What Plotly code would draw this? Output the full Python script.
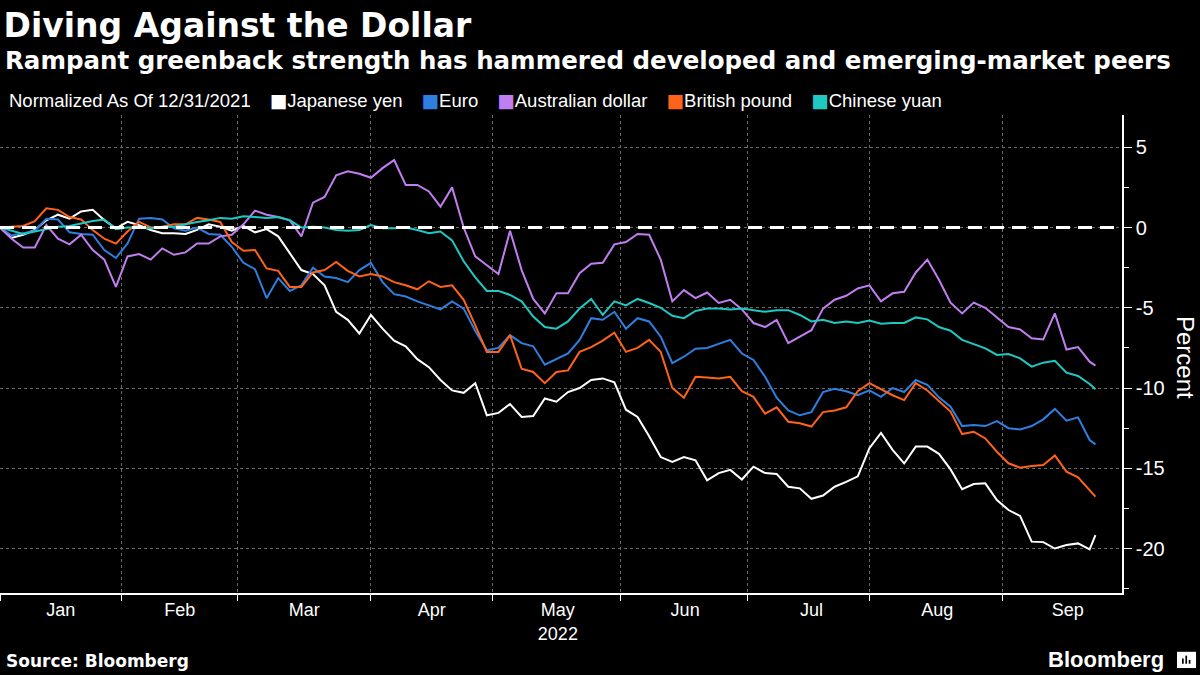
import pandas as pd
import plotly.graph_objects as go

# trading days (weekdays) from Jan 3 to Sep 23 2022, read every 2nd day plus the last one
trading_days = pd.bdate_range("2022-01-03", "2022-09-23")
sample = list(range(0, len(trading_days), 2)) + [len(trading_days) - 1]
dates = trading_days[sample]

# percent change vs the dollar, normalized as of 12/31/2021
japanese_yen = [
    0, -0.65, -0.45, -0.15, 0.45, 0.8, 0.55, 1.0, 1.1, 0.45,
    -0.05, 0.35, 0.15, -0.15, -0.35, -0.35, -0.4, -0.15, 0.2, 0.05,
    -0.2, 0.1, -0.3, -0.1, -0.55, -1.6, -2.65, -2.9, -3.6, -5.25,
    -5.75, -6.6, -5.45, -6.3, -7.05, -7.4, -8.2, -8.7, -9.5, -10.15,
    -10.3, -9.7, -11.7, -11.55, -11.0, -11.8, -11.75, -10.65, -10.85, -10.25,
    -10.0, -9.5, -9.4, -9.65, -11.35, -11.8, -13.0, -14.3, -14.6, -14.3,
    -14.5, -15.75, -15.3, -15.1, -15.7, -14.9, -15.3, -15.35, -16.15, -16.25,
    -16.9, -16.7, -16.15, -15.85, -15.5, -13.75, -12.8, -13.85, -14.7, -13.65,
    -13.65, -14.1, -15.07, -16.3, -15.98, -15.94, -16.98, -17.6, -17.97, -19.57,
    -19.6, -20.0, -19.78, -19.68, -20.05, -19.16,
]
euro = [
    0, -0.5, -0.35, -0.2, 0.55, 0.5, -0.3, -0.4, -0.45, -1.4,
    -1.9, -1.0, 0.55, 0.6, 0.5, -0.05, -0.2, 0.0, -0.4, -0.45,
    -1.2, -2.2, -2.6, -4.4, -3.15, -3.95, -3.6, -2.5, -3.05, -3.15,
    -3.4, -2.65, -2.2, -3.4, -4.15, -4.3, -4.6, -4.85, -5.1, -4.6,
    -5.05, -6.45, -7.65, -7.5, -6.7, -7.2, -7.4, -8.55, -8.2, -7.85,
    -7.0, -5.65, -5.75, -5.25, -6.3, -5.65, -5.85, -6.8, -8.45, -8.05,
    -7.55, -7.5, -7.25, -7.0, -7.85, -8.25, -9.3, -10.6, -11.4, -11.7,
    -11.5, -10.25, -10.05, -10.2, -10.45, -10.15, -10.55, -10.0, -10.25, -9.5,
    -9.8, -10.58, -11.16, -12.37, -12.3, -12.37, -12.06, -12.5, -12.58, -12.37,
    -11.95, -11.3, -12.03, -11.83, -13.24, -13.51,
]
australian_dollar = [
    0, -0.7, -1.25, -1.25, 0.15, -0.7, -1.05, -0.45, -1.4, -2.0,
    -3.7, -1.8, -1.65, -2.0, -1.3, -1.7, -1.55, -1.0, -1.0, -0.55,
    -0.45, 0.2, 1.05, 0.8, 0.65, 0.45, -0.55, 1.55, 1.9, 3.25,
    3.5, 3.35, 3.1, 3.7, 4.2, 2.65, 2.65, 2.25, 1.3, 2.5,
    0.0, -1.8, -2.35, -2.9, -0.2, -2.65, -4.45, -5.35, -4.1, -4.1,
    -2.85, -2.25, -2.2, -1.05, -0.9, -0.4, -0.45, -2.0, -4.6, -3.9,
    -4.4, -4.05, -4.7, -4.5, -5.1, -5.95, -6.2, -5.75, -7.2, -6.8,
    -6.4, -5.05, -4.5, -4.25, -3.8, -3.6, -4.6, -4.1, -4.0, -2.8,
    -2.0, -3.25, -4.68, -5.35, -4.68, -5.0, -5.6, -6.2, -6.35, -6.9,
    -6.97, -5.35, -7.6, -7.45, -8.36, -8.6,
]
british_pound = [
    0, 0.05, 0.1, 0.4, 1.2, 1.1, 0.65, 0.5, -0.15, -0.7,
    -1.0, -0.25, 0.35, 0.0, 0.05, 0.2, 0.2, 0.6, 0.5, 0.35,
    -0.9, -1.45, -1.4, -2.55, -2.7, -3.7, -3.7, -2.8, -2.65, -2.15,
    -2.7, -3.05, -2.9, -3.05, -3.4, -3.6, -3.85, -3.35, -3.7, -3.6,
    -4.5, -6.1, -7.75, -7.75, -6.7, -8.8, -9.0, -9.7, -9.0, -8.9,
    -7.75, -7.45, -7.05, -6.55, -7.75, -7.5, -7.0, -7.75, -10.0, -10.6,
    -9.3, -9.35, -9.4, -9.3, -10.2, -10.55, -11.6, -11.2, -12.1, -12.2,
    -12.4, -11.5, -11.4, -11.2, -10.2, -9.7, -10.1, -10.45, -10.75, -9.7,
    -10.15, -10.79, -11.47, -12.87, -12.72, -13.14, -13.97, -14.69, -14.96, -14.86,
    -14.8, -14.2, -15.21, -15.57, -16.36, -16.77,
]
chinese_yuan = [
    0, -0.2, -0.4, -0.25, -0.1, 0.05, 0.1, 0.25, 0.4, 0.5,
    -0.1, 0.0, 0.0, -0.05, 0.05, 0.05, 0.2, 0.35, 0.45, 0.6,
    0.55, 0.7, 0.65, 0.6, 0.65, 0.45, 0.0, 0.05, 0.0, -0.15,
    -0.2, -0.15, 0.15, -0.05, -0.05, 0.0, -0.15, -0.35, -0.25, -0.8,
    -2.1, -3.1, -3.95, -3.95, -4.2, -4.6, -5.55, -6.2, -6.3, -5.85,
    -5.05, -4.45, -5.45, -4.6, -4.85, -4.45, -4.7, -5.0, -5.5, -5.65,
    -5.2, -5.05, -5.05, -5.1, -5.05, -5.15, -5.25, -5.15, -5.15, -5.45,
    -5.85, -5.75, -5.95, -5.85, -5.95, -5.8, -6.0, -5.95, -5.95, -5.6,
    -5.72, -6.2, -6.43, -7.0, -7.28, -7.53, -7.94, -7.88, -8.15, -8.67,
    -8.42, -8.3, -9.04, -9.25, -9.75, -10.08,
]

series_names = ["Japanese yen", "Euro", "Australian dollar", "British pound", "Chinese yuan"]
series_values = [japanese_yen, euro, australian_dollar, british_pound, chinese_yuan]
series_colors = ["#ffffff", "#2e7fe0", "#c07ef0", "#ff6319", "#1fc8c2"]

# axis ticks
month_starts = ["2022-01-03", "2022-02-01", "2022-03-01", "2022-04-01", "2022-05-02",
                "2022-06-01", "2022-07-01", "2022-08-01", "2022-09-01"]
month_label_pos = ["2022-01-17 12:00", "2022-02-15", "2022-03-16 12:00", "2022-04-15 12:00",
                   "2022-05-17 06:00", "2022-06-16 05:00", "2022-07-18", "2022-08-16 17:00",
                   "2022-09-16 05:00"]
month_labels = ["Jan", "Feb", "Mar", "Apr", "May<br>2022", "Jun", "Jul", "Aug", "Sep"]
y_ticks = [-20, -15, -10, -5, 0, 5]
y_tick_labels = ["-20", "-15", "-10", "-5", "0", "5"]
y_minor_ticks = [-22.5, -17.5, -12.5, -7.5, -2.5, 2.5]

FONT = "Liberation Sans, Arial, sans-serif"
BOLD = "DejaVu Sans, Liberation Sans, sans-serif"

fig = go.Figure()

for name, vals, color in zip(series_names, series_values, series_colors):
    fig.add_trace(go.Scatter(x=dates, y=vals, mode="lines", name=name,
                             line=dict(color=color, width=2), showlegend=False))

# white dashed zero line
fig.add_shape(type="line", xref="paper", x0=0, x1=1, yref="y", y0=0, y1=0,
              line=dict(color="white", width=3, dash="14px,8px"))

# legend row drawn as text with coloured squares
nb = "\u00a0"
gap = nb * 3 + "\u2009"
legend_text = "Normalized As Of 12/31/2021" + gap
for name, color in zip(series_names, series_colors):
    legend_text += (f"<span style='color:{color};font-family:DejaVu Sans'>■</span>"
                    f"{name}" + gap)

fig.add_annotation(text=legend_text, xref="paper", yref="paper", x=0.006, y=1.031,
                   xanchor="left", yanchor="middle", showarrow=False,
                   font=dict(family=FONT, size=18.5, color="white"))
fig.add_annotation(text="<b>Rampant greenback strength has hammered developed and emerging-market peers</b>",
                   xref="paper", yref="paper", x=0.003, y=1.115, xanchor="left", yanchor="middle",
                   showarrow=False, font=dict(family=BOLD, size=24.5, color="white"))
fig.add_annotation(text="Percent", textangle=90, xref="paper", yref="paper", x=1.056, y=0.492,
                   xanchor="center", yanchor="middle", showarrow=False,
                   font=dict(family=FONT, size=24, color="white"))
fig.add_annotation(text="<b>Source: Bloomberg</b>", xref="paper", yref="paper", x=0.004, y=-0.142,
                   xanchor="left", yanchor="middle", showarrow=False,
                   font=dict(family=BOLD, size=17, color="white"))
fig.add_annotation(text="<b>Bloomberg</b>", xref="paper", yref="paper", x=1.039, y=-0.14,
                   xanchor="right", yanchor="middle", showarrow=False,
                   font=dict(family=FONT, size=22, color="white"))
# little logo block
fig.add_shape(type="rect", xref="paper", yref="paper", x0=1.049, x1=1.066, y0=-0.157, y1=-0.123,
              line=dict(width=0), fillcolor="white")
for bx0, by1 in [(1.0535, -0.137), (1.0565, -0.131), (1.0595, -0.140)]:
    fig.add_shape(type="rect", xref="paper", yref="paper", x0=bx0, x1=bx0 + 0.0015,
                  y0=-0.148, y1=by1, line=dict(width=0), fillcolor="black")

fig.update_layout(
    width=1200, height=675,
    paper_bgcolor="black", plot_bgcolor="black",
    margin=dict(l=0, r=78, t=115, b=82),
    title=dict(text="<b>Diving Against the Dollar</b>", x=0.003, xanchor="left",
               y=0.963, yanchor="middle",
               font=dict(family=BOLD, size=33, color="white")),
    xaxis=dict(
        type="date",
        rangebreaks=[dict(bounds=["sat", "mon"])],
        range=["2022-01-03", "2022-09-29 14:00"],
        tickmode="array", tickvals=month_label_pos, ticktext=month_labels,
        ticks="", showgrid=False, zeroline=False,
        showline=True, linecolor="white", linewidth=1.5,
        tickfont=dict(family=FONT, size=18, color="white"),
        minor=dict(tickmode="array", tickvals=month_starts, ticks="outside", ticklen=6,
                   tickcolor="white", showgrid=True, gridcolor="#6a6a6a",
                   griddash="dot", gridwidth=1),
    ),
    yaxis=dict(
        side="right",
        range=[-22.77, 7.01],
        tickmode="array", tickvals=y_ticks, ticktext=y_tick_labels,
        ticks="outside", ticklen=8, tickcolor="white",
        showline=True, linecolor="white", linewidth=1.5,
        showgrid=True, gridcolor="#6a6a6a", griddash="dot", gridwidth=1,
        zeroline=False,
        tickfont=dict(family=FONT, size=20, color="white"),
        minor=dict(tickmode="array", tickvals=y_minor_ticks, ticks="outside",
                   ticklen=5, tickcolor="white", showgrid=False),
    ),
)

# the page body has a default margin; drop it so the figure sits at the window corner
fig.write_html("out.html", config={"displayModeBar": False},
               post_script="document.body.style.margin = '0px';")
